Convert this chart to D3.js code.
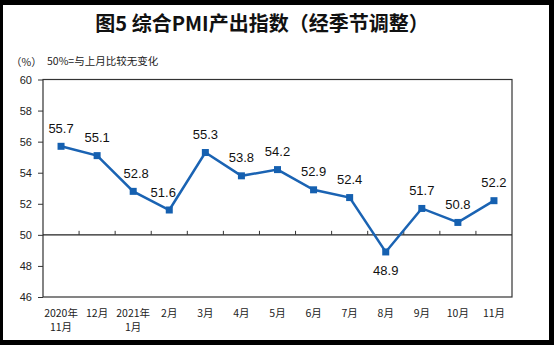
<!DOCTYPE html>
<html lang="zh">
<head>
<meta charset="UTF-8" />
<script src="https://d3js.org/d3.v7.min.js"></script>
<title>综合PMI产出指数</title>
<style>
  body { margin: 0; background: #000; }
  svg { display: block; }
  .val { font-family: "Liberation Sans", Arial, sans-serif; font-size: 13px; fill: #111; }
  .tk { font-family: "Liberation Sans", Arial, sans-serif; font-size: 11px; fill: #222; }
  .cat { font-family: "Noto Sans CJK SC", sans-serif; font-size: 10.5px; fill: #222; }
</style>
</head>
<body>
<script>
// data
var categories = ["2020年\n11月", "12月", "2021年\n1月", "2月", "3月", "4月", "5月", "6月", "7月", "8月", "9月", "10月", "11月"];
var values = [55.7, 55.1, 52.8, 51.6, 55.3, 53.8, 54.2, 52.9, 52.4, 48.9, 51.7, 50.8, 52.2];
var yTicks = [46, 48, 50, 52, 54, 56, 58, 60];
// small horizontal nudges of the value labels (as placed in the original)
var labelNudge = [0, 0, 3, -6, 0, 0, 0, 0, 0, 0, 0, 0, 0];

var width = 554, height = 345;
var svg = d3.select("body").append("svg").attr("width", width).attr("height", height);

svg.append("rect").attr("x", 3).attr("y", 5).attr("width", 546).attr("height", 335).attr("fill", "#fff");

var x = d3.scaleBand().domain(d3.range(categories.length)).range([43, 512]).padding(0);
var y = d3.scaleLinear().domain([46, 60]).range([297, 79.5]);

// title
svg.append("text").attr("x", 262).attr("y", 31).attr("text-anchor", "middle")
  .style("font-family", "'Noto Sans CJK SC', sans-serif").style("font-size", "20px").style("font-weight", "bold")
  .attr("fill", "#111").text("图5 综合PMI产出指数（经季节调整）");

svg.append("text").attr("x", 11).attr("y", 66)
  .style("font-family", "'Noto Sans CJK SC', sans-serif").style("font-size", "10.5px").attr("fill", "#222").text("（%）");
svg.append("text").attr("x", 47).attr("y", 65)
  .style("font-family", "'Noto Sans CJK SC', sans-serif").style("font-size", "10.5px").attr("fill", "#222").text("50%=与上月比较无变化");

// plot box
svg.append("rect").attr("x", 43).attr("y", y(60)).attr("width", 469).attr("height", y(46) - y(60))
  .attr("fill", "none").attr("stroke", "#333").attr("stroke-width", 1.2);

// y axis
var yAxis = d3.axisLeft(y).tickValues(yTicks).tickSize(5).tickPadding(6);
var ga = svg.append("g").attr("transform", "translate(43,0)").call(yAxis);
ga.select(".domain").remove();
ga.selectAll("line").attr("stroke", "#333");
ga.selectAll("text").attr("class", "tk").attr("fill", null).style("font-size", "11px").attr("font-family", null);

// 50 line with upward ticks at category boundaries
svg.append("line").attr("x1", 43).attr("x2", 512).attr("y1", y(50)).attr("y2", y(50))
  .attr("stroke", "#222").attr("stroke-width", 1.2);
svg.selectAll(".bt").data(d3.range(1, categories.length)).enter().append("line")
  .attr("x1", function(i){ return x(i); }).attr("x2", function(i){ return x(i); })
  .attr("y1", y(50)).attr("y2", y(50) - 4).attr("stroke", "#333");

// x labels
var cx = function(i){ return x(i) + x.bandwidth() / 2; };
categories.forEach(function(c, i){
  var parts = c.split("\n");
  parts.forEach(function(p, k){
    svg.append("text").attr("class", "cat").attr("x", cx(i)).attr("y", 317 + k * 14)
      .attr("text-anchor", "middle").text(p);
  });
});

// line
var line = d3.line().x(function(d, i){ return cx(i); }).y(function(d){ return y(d); });
svg.append("path").datum(values).attr("d", line).attr("fill", "none")
  .attr("stroke", "#1a63b3").attr("stroke-width", 2.5).attr("stroke-linejoin", "miter");

svg.selectAll(".pt").data(values).enter().append("rect")
  .attr("x", function(d, i){ return cx(i) - 3.5; }).attr("y", function(d){ return y(d) - 3.5; })
  .attr("width", 7).attr("height", 7).attr("fill", "#1560b0");

svg.selectAll(".val").data(values).enter().append("text").attr("class", "val")
  .attr("x", function(d, i){ return cx(i) + labelNudge[i]; })
  .attr("y", function(d){ return d < 50 ? y(d) + 23 : y(d) - 13.5; })
  .attr("text-anchor", "middle").text(function(d){ return d.toFixed(1); });
</script>
</body>
</html>
